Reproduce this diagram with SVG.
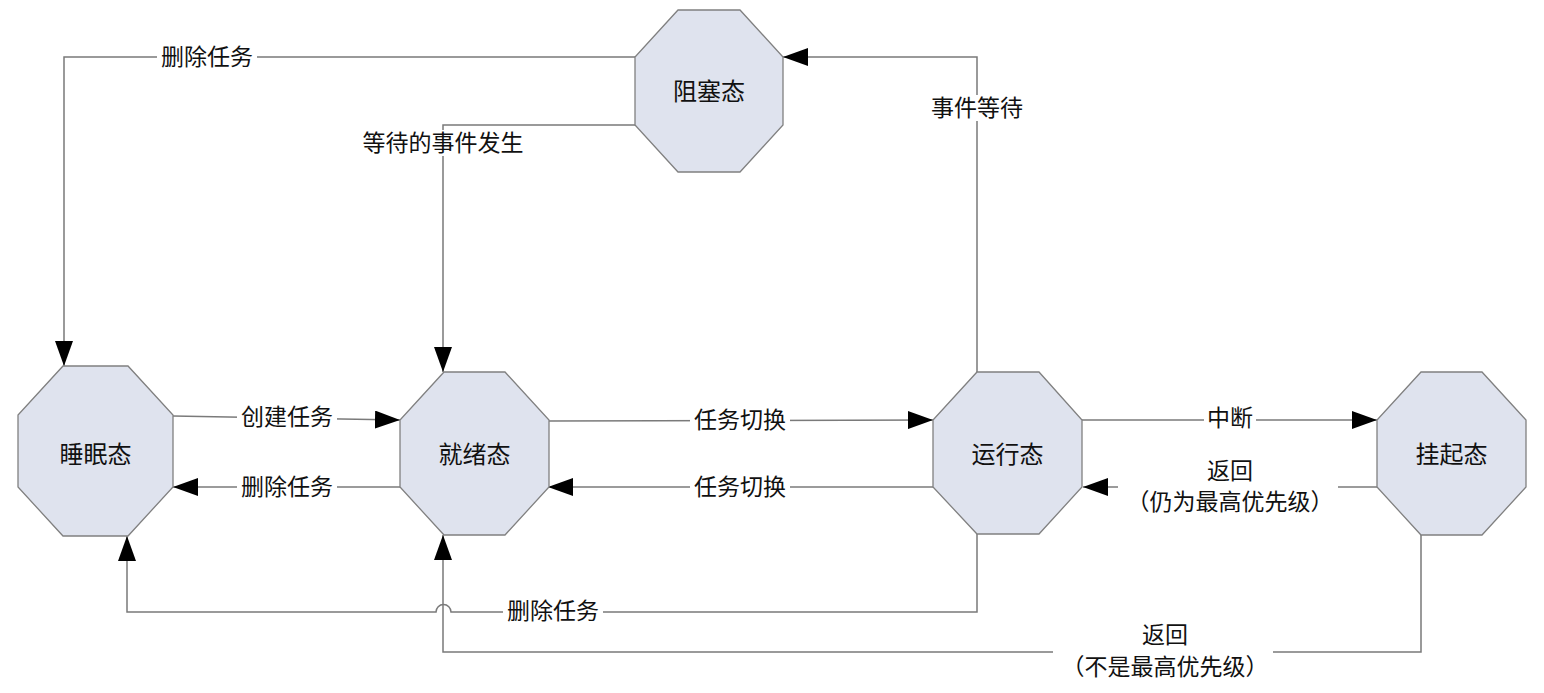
<svg xmlns="http://www.w3.org/2000/svg" width="1544" height="693" viewBox="0 0 1544 693">
<style>
.node{fill:#dfe3ee;stroke:#808080;stroke-width:1.3}
.nt{font-family:"Noto Sans CJK SC","Liberation Sans",sans-serif;font-size:24px;fill:#111;text-anchor:middle}
.et{font-family:"Noto Sans CJK SC","Liberation Sans",sans-serif;font-size:23px;fill:#111;text-anchor:middle}
.ln{fill:none;stroke:#7a7a7a;stroke-width:1.5}
.bg{fill:#ffffff}
</style>
<defs>
<marker id="arr" markerUnits="userSpaceOnUse" markerWidth="26" markerHeight="18" refX="25" refY="9" orient="auto">
<path d="M0,0 L25,9 L0,18 z" fill="#000"/>
</marker>
</defs>
<g id="connectors">
<path class="ln" d="M635,57 H64 V366" marker-end="url(#arr)"/>
<path class="ln" d="M635,125 H443 V372" marker-end="url(#arr)"/>
<path class="ln" d="M977,372 V57 H783" marker-end="url(#arr)"/>
<path class="ln" d="M173,416 L400,420" marker-end="url(#arr)"/>
<path class="ln" d="M400,487 H173" marker-end="url(#arr)"/>
<path class="ln" d="M548,421 L933,420" marker-end="url(#arr)"/>
<path class="ln" d="M933,487 H548" marker-end="url(#arr)"/>
<path class="ln" d="M1082,420 H1377" marker-end="url(#arr)"/>
<path class="ln" d="M1377,487 H1338"/>
<path class="ln" d="M1118,487 H1083" marker-end="url(#arr)"/>
<path class="ln" d="M977,534 V612 H451 A7.5,7.5 0 0 0 436,612 H127 V536" marker-end="url(#arr)"/>
<path class="ln" d="M1421,535 V652 H443 V535" marker-end="url(#arr)"/>
<g id="labels">
<rect class="bg" x="157" y="44" width="100" height="26"/>
<text class="et" x="207" y="65">删除任务</text>
<rect class="bg" x="355" y="130" width="176" height="26"/>
<text class="et" x="443" y="151">等待的事件发生</text>
<rect class="bg" x="927" y="95" width="100" height="26"/>
<text class="et" x="977" y="116">事件等待</text>
<rect class="bg" x="237" y="404" width="100" height="26"/>
<text class="et" x="287" y="425">创建任务</text>
<rect class="bg" x="237" y="474" width="100" height="26"/>
<text class="et" x="287" y="495">删除任务</text>
<rect class="bg" x="690" y="407" width="100" height="26"/>
<text class="et" x="740" y="428">任务切换</text>
<rect class="bg" x="690" y="474" width="100" height="26"/>
<text class="et" x="740" y="495">任务切换</text>
<rect class="bg" x="1204" y="405" width="52" height="26"/>
<text class="et" x="1230" y="426">中断</text>
<text class="et"><tspan x="1230" y="479">返回</tspan><tspan x="1230" y="510">（仍为最高优先级）</tspan></text>
<rect class="bg" x="503" y="598" width="100" height="26"/>
<text class="et" x="553" y="619">删除任务</text>
<rect class="bg" x="1053" y="640" width="220" height="24"/>
<text class="et"><tspan x="1165" y="643">返回</tspan><tspan x="1165" y="675">（不是最高优先级）</tspan></text>
</g>
</g>
<g id="blocked">
<polygon class="node" points="678,10 740,10 783,57 783,125 740,172 678,172 635,125 635,57"/>
<text class="nt" x="709" y="100">阻塞态</text>
</g>
<g id="sleep">
<polygon class="node" points="63,366 128,366 173,415 173,487 128,536 63,536 18,487 18,415"/>
<text class="nt" x="95.5" y="463">睡眠态</text>
</g>
<g id="ready">
<polygon class="node" points="444,372 505,372 549,420 549,487 505,535 444,535 400,487 400,420"/>
<text class="nt" x="474.5" y="463">就绪态</text>
</g>
<g id="running">
<polygon class="node" points="977,372 1039,372 1082,420 1082,487 1039,534 977,534 933,487 933,420"/>
<text class="nt" x="1007.5" y="463">运行态</text>
</g>
<g id="suspended">
<polygon class="node" points="1421,372 1482,372 1526,420 1526,487 1482,535 1421,535 1377,487 1377,420"/>
<text class="nt" x="1451.5" y="463">挂起态</text>
</g>
</svg>
